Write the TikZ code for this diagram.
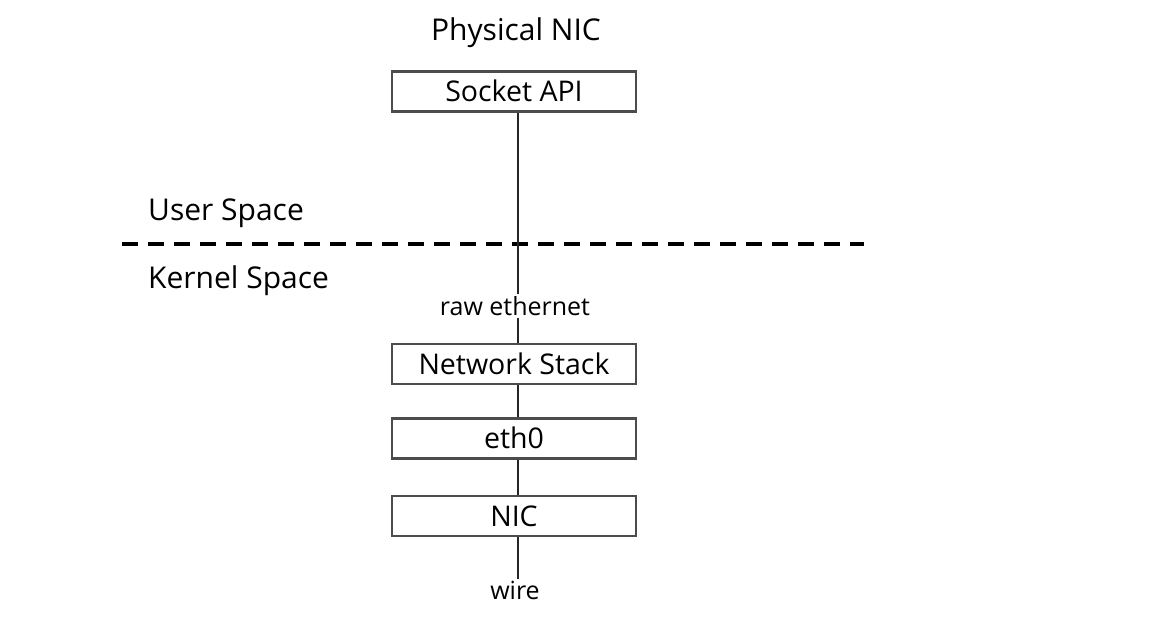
\documentclass[tikz,border=0pt]{standalone}
\usepackage{fontspec}
\setmainfont{Open Sans}
\begin{document}
\begin{tikzpicture}[x=1pt,y=-1pt,
  layerbox/.style={draw=black!70,line width=2.6pt,fill=white,minimum width=244pt,minimum height=40pt,inner sep=0pt,text height=20pt,text depth=0pt,font=\fontsize{28.5}{32}\selectfont},
  biglabel/.style={inner sep=0pt,anchor=base,font=\fontsize{30}{34}\selectfont},
  smalllabel/.style={inner sep=2pt,fill=white,font=\fontsize{25}{28}\selectfont},
  link/.style={draw=black!85,line width=1.8pt}]
\useasboundingbox (0,0) rectangle (1160,628);
\fill[white] (0,0) rectangle (1160,628);
\node[biglabel] (title) at (516,41) {Physical NIC};
\node[biglabel,anchor=base west] (user) at (148,221) {User Space};
\node[biglabel,anchor=base west] (kernel) at (148,289) {Kernel Space};
\coordinate (dl) at (122,244);
\coordinate (dr) at (864,244);
\draw[line width=3.6pt,dash pattern=on 16pt off 10pt] (dl) -- (dr);
\node[layerbox] (sock) at (514,91.5) {Socket API};
\node[smalllabel] (raw) at (515,306) {raw ethernet};
\node[layerbox] (stack) at (514,364) {Network Stack};
\node[layerbox] (eth) at (514,438.5) {eth0};
\node[layerbox] (nic) at (514,516) {NIC};
\node[smalllabel] (wire) at (515,590) {wire};
\draw[link] (sock.south -| 518,0) -- (raw.north -| 518,0);
\draw[link] (raw.south -| 518,0) -- (stack.north -| 518,0);
\draw[link] (stack.south -| 518,0) -- (eth.north -| 518,0);
\draw[link] (eth.south -| 518,0) -- (nic.north -| 518,0);
\draw[link] (nic.south -| 518,0) -- (wire.north -| 518,0);
\end{tikzpicture}
\end{document}
